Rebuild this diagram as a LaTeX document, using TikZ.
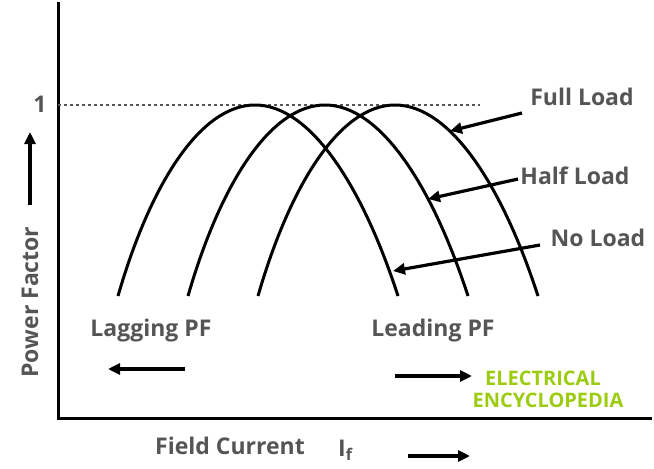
\documentclass[tikz,border=0pt]{standalone}
\usepackage{fontspec}
\setmainfont{Open Sans}
\usetikzlibrary{arrows.meta}
\definecolor{txt}{HTML}{555555}
\definecolor{logo}{HTML}{9CCC10}
\begin{document}
\begin{tikzpicture}[x=1pt,y=-1pt,
  lbl/.style={text=txt,font=\bfseries\fontsize{23}{26}\selectfont,inner sep=0pt},
  arr/.style={line width=3.2pt,-{Triangle[length=12pt,width=11pt]}},
  curve/.style={line width=3pt},
  logotxt/.style={text=logo,font=\bfseries\fontsize{20}{22}\selectfont,inner sep=0pt}]
\useasboundingbox (0,0) rectangle (654,469);
\fill[white] (0,0) rectangle (654,469);
\coordinate (o) at (58,418);
\coordinate (top) at (58,2);
\coordinate (xr) at (652,418);
\draw[line width=3pt] (top) -- (o) -- (xr);
\coordinate (d1) at (58,105);
\coordinate (d2) at (480,105);
\draw[dashed,line width=1.6pt,txt] (d1) -- (d2);
\node[lbl] (one) at (40,104) {1};
\foreach \s in {0,70,140}{
  \draw[curve] (118+\s,296) .. controls (150+\s,185) and (200+\s,105) .. (255+\s,105)
     .. controls (310+\s,105) and (362+\s,185) .. (398+\s,296);
}
\node[lbl] (fl) at (582,97) {Full Load};
\node[lbl] (hl) at (575,176) {Half Load};
\node[lbl] (nl) at (598,238) {No Load};
\coordinate (fa) at (522,113); \coordinate (fb) at (450,131);
\coordinate (ha) at (518,179); \coordinate (hb) at (428,199);
\coordinate (na) at (540,245); \coordinate (nb) at (393,271);
\draw[arr] (fa) -- (fb);
\draw[arr] (ha) -- (hb);
\draw[arr] (na) -- (nb);
\node[lbl] (lag) at (151,331) {Lagging PF};
\node[lbl] (lead) at (433,331) {Leading PF};
\coordinate (lga) at (185,369); \coordinate (lgb) at (108,369);
\coordinate (lda) at (395,376); \coordinate (ldb) at (472,376);
\draw[arr] (lga) -- (lgb);
\draw[arr] (lda) -- (ldb);
\node[logotxt] (e1) at (543,378) {ELECTRICAL};
\node[logotxt] (e2) at (548,400) {ENCYCLOPEDIA};
\node[lbl] (fc) at (230,446) {Field Current};
\node[lbl,anchor=west] (if) at (338,450) {I\textsubscript{f}};
\coordinate (ia) at (408,456); \coordinate (ib) at (470,456);
\draw[arr] (ia) -- (ib);
\node[lbl,rotate=90] (pf) at (30,302) {Power Factor};
\coordinate (pa) at (30,205); \coordinate (pb) at (30,132);
\draw[arr] (pa) -- (pb);
\end{tikzpicture}
\end{document}
